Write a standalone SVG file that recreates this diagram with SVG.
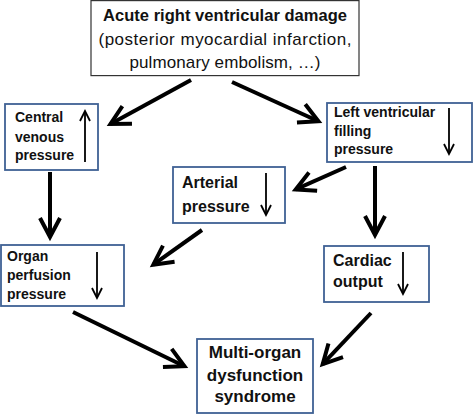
<svg xmlns="http://www.w3.org/2000/svg" width="474" height="414" viewBox="0 0 474 414">
<style>
.box{fill:#fff;stroke:#3f6194;stroke-width:1.8}
.topbox{fill:#fff;stroke:#333;stroke-width:1.2}
.t{font-family:"Liberation Sans",Arial,sans-serif;fill:#111}
.b{font-weight:bold}
.big{stroke:#000;stroke-width:4;fill:none;marker-end:url(#ah)}
.sm{stroke:#000;stroke-width:1.8;fill:none;marker-end:url(#sh)}
</style>
<defs>
<marker id="ah" markerUnits="userSpaceOnUse" markerWidth="40" markerHeight="40" viewBox="-30 -20 40 40" refX="0" refY="0" orient="auto" overflow="visible">
<path d="M-19,-10 L0,0 L-19,10" fill="none" stroke="#000" stroke-width="4" stroke-linejoin="miter" stroke-miterlimit="10"/>
</marker>
<marker id="sh" markerUnits="userSpaceOnUse" markerWidth="20" markerHeight="20" viewBox="-15 -10 20 20" refX="0" refY="0" orient="auto" overflow="visible">
<path d="M-10,-5 L0,0 L-10,5" fill="none" stroke="#000" stroke-width="1.8" stroke-linejoin="miter"/>
</marker>
</defs>

<g id="connectors">
<line class="big" x1="191" y1="80" x2="110.5" y2="124"/>
<line class="big" x1="232" y1="82" x2="318.4" y2="121.3"/>
<line class="big" x1="50" y1="172" x2="50" y2="237"/>
<line class="big" x1="346" y1="167" x2="295.7" y2="189.4"/>
<line class="big" x1="375" y1="166" x2="375" y2="235"/>
<line class="big" x1="202" y1="230" x2="153.3" y2="264.7"/>
<line class="big" x1="73" y1="312" x2="184.4" y2="366.2"/>
<line class="big" x1="371" y1="313" x2="322.7" y2="364.1"/>
</g>

<g id="node-top">
<rect class="topbox" x="91" y="0.6" width="268" height="75"/>
<text class="t b" x="225" y="21" font-size="16.5" text-anchor="middle" textLength="244">Acute right ventricular damage</text>
<text class="t" x="225" y="45" font-size="17" text-anchor="middle" textLength="253">(posterior myocardial infarction,</text>
<text class="t" x="225" y="68" font-size="17" text-anchor="middle" textLength="191">pulmonary embolism, …)</text>
</g>

<g id="node-cvp">
<rect class="box" x="5" y="104" width="93" height="66"/>
<text class="t b" font-size="14" x="15" y="122">Central</text>
<text class="t b" font-size="14" x="15" y="142">venous</text>
<text class="t b" font-size="14" x="15" y="160">pressure</text>
<line class="sm" x1="85" y1="162" x2="85" y2="111"/>
</g>

<g id="node-lv">
<rect class="box" x="327" y="103" width="145" height="59"/>
<text class="t b" font-size="14" x="334" y="117">Left ventricular</text>
<text class="t b" font-size="14" x="334" y="136">filling</text>
<text class="t b" font-size="14" x="334" y="154">pressure</text>
<line class="sm" x1="449" y1="108" x2="449" y2="154"/>
</g>

<g id="node-arterial">
<rect class="box" x="173" y="167" width="112" height="56"/>
<text class="t b" font-size="16" x="182" y="188">Arterial</text>
<text class="t b" font-size="16" x="182" y="212">pressure</text>
<line class="sm" x1="266" y1="173" x2="266" y2="215"/>
</g>

<g id="node-organ">
<rect class="box" x="1" y="245" width="123" height="61"/>
<text class="t b" font-size="14" x="7" y="261">Organ</text>
<text class="t b" font-size="14" x="7" y="280">perfusion</text>
<text class="t b" font-size="14" x="7" y="299">pressure</text>
<line class="sm" x1="97" y1="252" x2="97" y2="298"/>
</g>

<g id="node-cardiac">
<rect class="box" x="324" y="246" width="105" height="56"/>
<text class="t b" font-size="16" x="333" y="266">Cardiac</text>
<text class="t b" font-size="16" x="333" y="287">output</text>
<line class="sm" x1="403" y1="252" x2="403" y2="294"/>
</g>

<g id="node-mods">
<rect class="box" x="197" y="339" width="116" height="74"/>
<text class="t b" font-size="17" x="255" y="358" text-anchor="middle">Multi-organ</text>
<text class="t b" font-size="17" x="255" y="381" text-anchor="middle">dysfunction</text>
<text class="t b" font-size="17" x="255" y="402" text-anchor="middle">syndrome</text>
</g>
</svg>
